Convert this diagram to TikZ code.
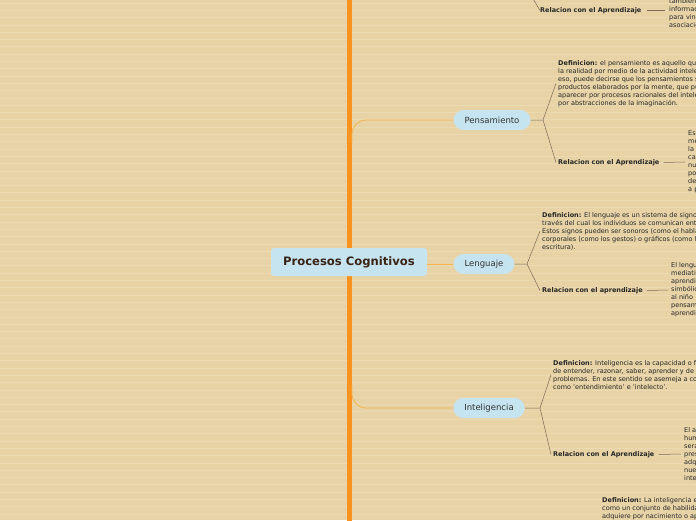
\documentclass[tikz,border=0pt]{standalone}
\usepackage{fontspec}
\setmainfont{DejaVu Sans}
\definecolor{paper-tan}{HTML}{E8D3A6}
\definecolor{paper-line}{HTML}{EBD9B2}
\definecolor{trunk-orange}{HTML}{F7931E}
\definecolor{branch-orange}{HTML}{F4B54E}
\definecolor{pill-blue}{HTML}{C5E4F0}
\definecolor{twig-brown}{HTML}{7D6B55}
\definecolor{root-ink}{HTML}{3A2416}

\begin{document}
\begin{tikzpicture}[x=1pt, y=-1pt,
      every node/.style={font=\fontsize{6.5}{8}\selectfont},
      topicbox/.style={fill=pill-blue, rounded corners=10pt, minimum height=20pt,
        inner xsep=11pt, font=\fontsize{8.5}{10}\selectfont, text=black!80},
      notetext/.style={align=left, inner sep=0pt, text=black!85},
      relbold/.style={font=\fontsize{6.5}{8}\bfseries},
      branch/.style={branch-orange, line width=0.8pt},
      twig/.style={twig-brown, line width=0.5pt}]
    \useasboundingbox (0,0) rectangle (696,520);
    \clip (0,0) rectangle (696,520);
    \fill[paper-tan] (0,0) rectangle (696,520);
    \foreach \y in {3,10.3,...,520}
      \draw[paper-line, line width=0.8pt] (0,\y) -- (696,\y);

    % trunk and main topics
    \draw[trunk-orange, line width=5pt] (349,-5) -- (349,525);
    \node[fill=pill-blue, rounded corners=3pt, minimum width=156pt, minimum height=28pt,
      font=\fontsize{11.6}{13}\bfseries, text=root-ink] (root) at (349,262) {Procesos Cognitivos};
    \node[topicbox] (pens) at (492,120) {Pensamiento};
    \node[topicbox] (leng) at (484,264) {Lenguaje};
    \node[topicbox] (intel) at (489,408) {Inteligencia};

    \coordinate (trunkP) at (352,143);
    \coordinate (trunkI) at (352,385);
    \draw[branch, rounded corners=14pt] (trunkP) |- (pens.west);
    \draw[branch, rounded corners=14pt] (trunkI) |- (intel.west);
    \draw[branch] (root.east |- leng) -- (leng.west);

    % top (cut off)
    \coordinate (forkT) at (516,-30);
    \node[notetext, relbold, anchor=west] (toprel) at (540,10.5) {Relacion con el Aprendizaje};
    \node[notetext, anchor=north west] (topnote) at (669,-2)
      {tambien\\informacion\\para vincular\\asociaciones};
    \draw[twig] (forkT) -- (toprel.west);
    \draw[twig, shorten <=5pt, shorten >=4pt] (toprel.east) -- (toprel.east -| topnote.west);

    % Pensamiento
    \coordinate (forkP) at (543,120);
    \node[notetext, anchor=north west] (pensdef) at (558,60)
      {\textbf{Definicion:} el pensamiento es aquello que\\
       la realidad por medio de la actividad intelectual\\
       eso, puede decirse que los pensamientos son\\
       productos elaborados por la mente, que pueden\\
       aparecer por procesos racionales del intelecto o\\
       por abstracciones de la imaginación.};
    \node[notetext, relbold, anchor=west] (pensrel) at (558,162.5) {Relacion con el Aprendizaje};
    \node[notetext, anchor=west] (pensnote) at (688,162)
      {Es\\me\\la\\ca\\nu\\po\\de\\a p};
    \draw[twig] (pens.east) -- (forkP) -- ([xshift=-2pt]pensdef.west);
    \draw[twig] (forkP) -- ([xshift=-2pt]pensrel.west);
    \draw[twig, shorten <=4pt, shorten >=3pt] (pensrel.east) -- (pensnote.west);

    % Lenguaje
    \coordinate (forkL) at (527,264);
    \node[notetext, anchor=north west] (lengdef) at (542,212)
      {\textbf{Definicion:} El lenguaje es un sistema de signos\\
       través del cual los individuos se comunican entre\\
       Estos signos pueden ser sonoros (como el habla),\\
       corporales (como los gestos) o gráficos (como la\\
       escritura).};
    \node[notetext, relbold, anchor=west] (lengrel) at (542,290.5) {Relacion con el aprendizaje};
    \node[notetext, anchor=west] (lengnote) at (671,290)
      {El lenguaje\\mediatiza\\aprendizaje\\simbólico\\al niño\\pensamiento\\aprendizaje};
    \draw[twig] (leng.east) -- (forkL) -- ([xshift=-2pt]lengdef.west);
    \draw[twig] (forkL) -- ([xshift=-2pt]lengrel.west);
    \draw[twig, shorten <=4pt, shorten >=3pt] (lengrel.east) -- (lengnote.west);

    % Inteligencia
    \coordinate (forkI) at (540,408);
    \node[notetext, anchor=north west] (inteldef) at (553,360)
      {\textbf{Definicion:} Inteligencia es la capacidad o facultad\\
       de entender, razonar, saber, aprender y de resolver\\
       problemas. En este sentido se asemeja a conceptos\\
       como 'entendimiento' e 'intelecto'.};
    \node[notetext, relbold, anchor=west] (intelrel) at (553,454.5) {Relacion con el Aprendizaje};
    \node[notetext, anchor=west] (intelnote) at (684,454)
      {El a\\hum\\sera\\pres\\adq\\nues\\inte};
    \draw[twig] (intel.east) -- (forkI) -- ([xshift=-2pt]inteldef.west);
    \draw[twig] (forkI) -- ([xshift=-2pt]intelrel.west);
    \draw[twig, shorten <=4pt, shorten >=3pt] (intelrel.east) -- (intelnote.west);

    % bottom (cut off)
    \node[notetext, anchor=north west] (lowdef) at (602,497)
      {\textbf{Definicion:} La inteligencia es\\
       como un conjunto de habilidades\\
       adquiere por nacimiento o aprendizaje};
  \end{tikzpicture}
\end{document}
